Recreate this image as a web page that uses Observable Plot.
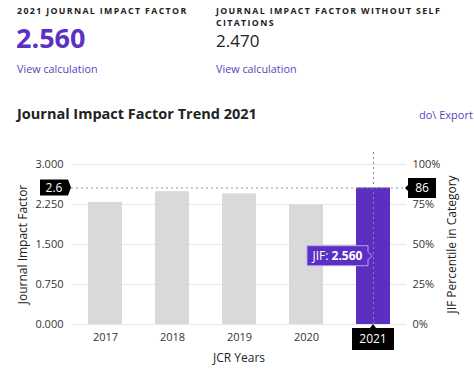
<!DOCTYPE html>
<html><head><meta charset="utf-8">
<script src="https://cdn.jsdelivr.net/npm/d3@7"></script>
<script src="https://cdn.jsdelivr.net/npm/@observablehq/plot@0.6"></script>
<style>
body{margin:0;width:474px;height:370px;overflow:hidden;background:#fff;font-family:"Open Sans",sans-serif;position:relative;color:#222}
.abs{position:absolute;white-space:nowrap}
.kicker{font-size:8.8px;font-weight:700;letter-spacing:1.35px;color:#222;line-height:12px}
.link{font-size:10.8px;color:#5a43bd}
</style></head><body>
<div class="abs kicker" style="left:17px;top:5px">2021 JOURNAL IMPACT FACTOR</div>
<div class="abs" style="left:16px;top:20px;color:#5b31c4;font-weight:700;font-size:27px;line-height:36px">2.560</div>
<div class="abs link" style="left:17px;top:61px">View calculation</div>
<div class="abs kicker" style="left:216px;top:5px">JOURNAL IMPACT FACTOR WITHOUT SELF</div>
<div class="abs kicker" style="left:216px;top:16.5px">CITATIONS</div>
<div class="abs" id="noself" style="left:216px;top:28.6px;color:#222;font-size:17px;line-height:1.362"></div>
<div class="abs link" style="left:216px;top:61px">View calculation</div>
<div class="abs" style="left:17px;top:104px;font-size:14.5px;font-weight:700;color:#222">Journal Impact Factor Trend 2021</div>
<div class="abs link" style="left:419px;top:107px;font-size:11px">do\ Export</div>
<div id="chart" class="abs" style="left:0;top:140px"></div>
<script>
const years = ["2017", "2018", "2019", "2020", "2021"];
const jifValues = [2.29, 2.49, 2.45, 2.24, 2.56];
const jifWithoutSelf = 2.470;
const percentile2021 = 86;
const yTicks = [0, 0.75, 1.5, 2.25, 3];
const yMax = 3;

document.getElementById("noself").textContent = d3.format(".3f")(jifWithoutSelf);

const data = years.map((year, i) => ({year, jif: jifValues[i]}));
const current = years[years.length - 1];
const currentJif = jifValues[jifValues.length - 1];
const purple = "#5b2fc2";
const gray = "#d9d9d9";
const font = "'Open Sans', sans-serif";

function annotations(index, scales, values, dims) {
  const x = scales.x, y = scales.y;
  const bw = typeof x.bandwidth === "function" ? x.bandwidth() : x.bandwidth;
  const cx = x(current) + bw / 2;
  const yJ = y(currentJif);
  const yP = y(percentile2021 / 100 * yMax);
  const yMid = y(currentJif / 2);
  const left = dims.marginLeft;
  const right = dims.width - dims.marginRight;
  const bottom = dims.height - dims.marginBottom;
  const g = d3.create("svg:g").attr("font-family", font);

  // left value box
  const lb = g.append("g");
  lb.append("path").attr("fill", "#000")
    .attr("d", `M${left - 31},${yJ - 8}h28l3,8l-3,8h-28z`);
  lb.append("text").attr("x", left - 17).attr("y", yJ).attr("dy", "0.35em")
    .attr("text-anchor", "middle").attr("fill", "#fff").attr("font-size", 12)
    .text(d3.format(".1f")(currentJif));

  // right percentile box
  const rb = g.append("g");
  rb.append("path").attr("fill", "#000")
    .attr("d", `M${right + 2},${yP + 1.5 - 10}h28v20h-28v-7l-3,-3l3,-3z`);
  rb.append("text").attr("x", right + 16).attr("y", yP + 1.5).attr("dy", "0.35em")
    .attr("text-anchor", "middle").attr("fill", "#fff").attr("font-size", 12)
    .text(percentile2021);

  // year box
  const yb = g.append("g");
  yb.append("path").attr("fill", "#000")
    .attr("d", `M${cx - 21},${bottom + 4}h${21 - 3}l3,-4l3,4h${21 - 3}v22h-42z`);
  yb.append("text").attr("x", cx).attr("y", bottom + 15).attr("dy", "0.35em")
    .attr("text-anchor", "middle").attr("fill", "#fff").attr("font-size", 12)
    .text(current);

  // tooltip
  const tb = g.append("g");
  const tw = 61, th = 20, tr = cx - 5;
  tb.append("path").attr("fill", purple).attr("stroke", "#b7a4ea").attr("stroke-width", 1)
    .attr("d", `M${tr - tw},${yMid - th / 2}h${tw}v${th / 2 - 4}l4,4l-4,4v${th / 2 - 4}h${-tw}z`);
  const t = tb.append("text").attr("x", tr - tw / 2).attr("y", yMid).attr("dy", "0.35em")
    .attr("text-anchor", "middle").attr("fill", "#fff").attr("font-size", 12);
  t.append("tspan").text("JIF: ");
  t.append("tspan").attr("font-weight", 700).text(d3.format(".3f")(currentJif));
  return g.node();
}

const chart = Plot.plot({
  width: 474,
  height: 230,
  marginTop: 24,
  marginBottom: 46,
  marginLeft: 71,
  marginRight: 68,
  style: {fontFamily: font, fontSize: "11px", color: "#333", background: "transparent", overflow: "visible"},
  x: {domain: years, paddingInner: 0.5, paddingOuter: 0.25, label: null},
  y: {domain: [0, yMax], label: null},
  marks: [
    Plot.gridY(yTicks, {stroke: "#e6e6e6", strokeOpacity: 1}),
    Plot.barY(data, {x: "year", y: "jif", fill: d => d.year === current ? purple : gray}),
    Plot.ruleY([currentJif], {stroke: "#9a9a9a", strokeDasharray: "2,3"}),
    Plot.ruleX([current], {y1: 0, y2: 3.25, stroke: "#8a8a8a", strokeDasharray: "2,3"}),
    Plot.axisY(yTicks, {anchor: "left", tickSize: 0, tickPadding: 8, tickFormat: d3.format(".3f"), label: null}),
    Plot.axisY(yTicks, {anchor: "right", tickSize: 0, tickPadding: 6,
      tickFormat: d => `${Math.round(d / yMax * 100)}%`, label: null}),
    Plot.axisX({tickSize: 0, tickPadding: 9, label: null, tickFormat: d => d === current ? "" : d}),
    Plot.text(["Journal Impact Factor"], {text: d => d, frameAnchor: "left", dx: -48, rotate: -90,
      textAnchor: "middle", lineAnchor: "middle", fontSize: 12, fill: "#222"}),
    Plot.text(["JIF Percentile in Category"], {text: d => d, frameAnchor: "right", dx: 46, rotate: -90,
      textAnchor: "middle", lineAnchor: "middle", fontSize: 12, fill: "#222"}),
    Plot.text(["JCR Years"], {text: d => d, frameAnchor: "bottom", dy: 34,
      textAnchor: "middle", lineAnchor: "middle", fontSize: 12, fill: "#222"}),
    annotations
  ]
});
document.getElementById("chart").appendChild(chart);
</script>
</body></html>
